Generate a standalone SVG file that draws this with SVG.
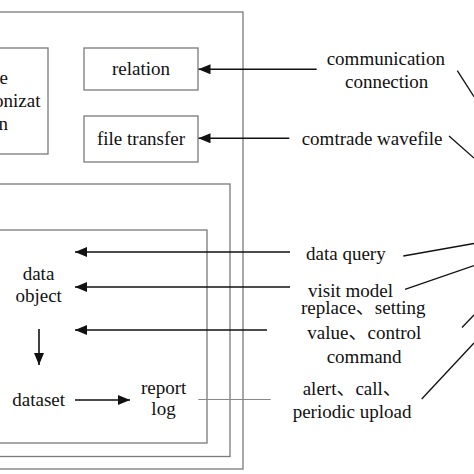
<svg xmlns="http://www.w3.org/2000/svg" width="474" height="474" viewBox="0 0 474 474">
<style>
.box{fill:none;stroke:#7a7a7a;stroke-width:1.3}
.t{font-family:"Liberation Serif","Noto Sans CJK SC",serif;font-size:19px;fill:#111}
.m{text-anchor:middle}
.e{text-anchor:end}
.arr{stroke:#111;stroke-width:1.6;fill:none}
.ln{stroke:#111;stroke-width:1.3;fill:none}
.thin{stroke:#888;stroke-width:1;fill:none}
</style>
<defs>
<marker id="ah" viewBox="0 0 12 10" refX="12" refY="5" markerWidth="12" markerHeight="10" markerUnits="userSpaceOnUse" orient="auto">
<path d="M0,0 L12,5 L0,10 z" fill="#111"/>
</marker>
</defs>
<rect width="474" height="474" fill="#fff"/>
<g id="outer"><rect class="box" x="-10" y="12" width="253" height="457"/></g>
<g id="timesync">
<rect class="box" x="-10" y="48" width="58" height="106"/>
<text class="t e" x="8" y="84">time</text>
<text class="t e" x="40.5" y="107">synchronizat</text>
<text class="t e" x="8" y="129.5">ion</text>
</g>
<g id="relation">
<rect class="box" x="84" y="48" width="114" height="42"/>
<text class="t m" x="141" y="75">relation</text>
</g>
<g id="filetransfer">
<rect class="box" x="84" y="116" width="114" height="46"/>
<text class="t m" x="141" y="145">file transfer</text>
</g>
<g id="ldevice"><rect class="box" x="-10" y="184" width="240" height="272.5"/></g>
<g id="lnode"><rect class="box" x="-10" y="230" width="217" height="213"/></g>
<g id="dataobject">
<text class="t m" x="38.5" y="280">data</text>
<text class="t m" x="38.7" y="302">object</text>
</g>
<g id="dataset"><text class="t m" x="38.7" y="406">dataset</text></g>
<g id="reportlog">
<text class="t m" x="163.7" y="394">report</text>
<text class="t m" x="163.5" y="415">log</text>
</g>
<g id="labels">
<text class="t" x="326.7" y="65">communication</text>
<text class="t" x="345" y="87.5">connection</text>
<text class="t" x="301.7" y="145">comtrade wavefile</text>
<text class="t" x="306" y="260">data query</text>
<text class="t" x="308" y="297">visit model</text>
<text class="t" x="301" y="314">replace、setting</text>
<text class="t" x="307.3" y="339">value、control</text>
<text class="t" x="326.7" y="363">command</text>
<text class="t" x="302.7" y="395">alert、call、</text>
<text class="t" x="292.7" y="418">periodic upload</text>
</g>
<g id="connectors">
<line class="arr" x1="316.7" y1="69.3" x2="198.5" y2="69.3" marker-end="url(#ah)"/>
<line class="arr" x1="289.3" y1="138.3" x2="198.5" y2="138.3" marker-end="url(#ah)"/>
<line class="arr" x1="290" y1="252" x2="75" y2="252" marker-end="url(#ah)"/>
<line class="arr" x1="290" y1="287" x2="75" y2="287" marker-end="url(#ah)"/>
<line class="arr" x1="267" y1="330" x2="75" y2="330" marker-end="url(#ah)"/>
<line class="arr" x1="39" y1="329" x2="39" y2="365" marker-end="url(#ah)"/>
<line class="arr" x1="75" y1="400" x2="130" y2="400" marker-end="url(#ah)"/>
<line class="thin" x1="198.3" y1="399.5" x2="270.7" y2="399.5"/>
<line class="ln" x1="457.3" y1="70.7" x2="474" y2="96.7"/>
<line class="ln" x1="449" y1="136" x2="474" y2="158"/>
<line class="ln" x1="403.3" y1="256" x2="474" y2="243.5"/>
<line class="ln" x1="405" y1="289.3" x2="474" y2="265.5"/>
<line class="ln" x1="462" y1="327.5" x2="474" y2="315"/>
<line class="ln" x1="421.7" y1="399" x2="474" y2="343"/>
</g>
</svg>
